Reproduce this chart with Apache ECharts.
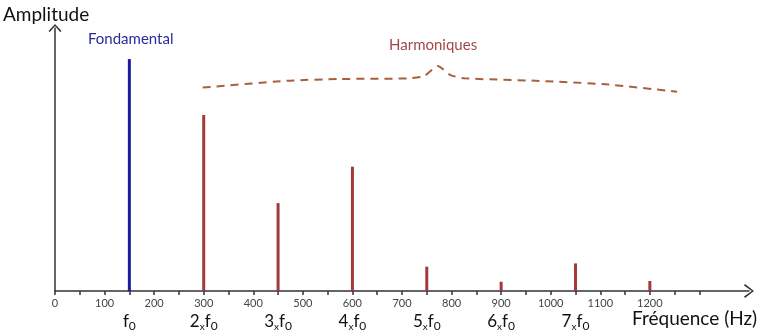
<!DOCTYPE html>
<html><head><meta charset="utf-8">
<script src="https://cdn.jsdelivr.net/npm/echarts@6/dist/echarts.min.js"></script>
<style>html,body{margin:0;padding:0;background:#fff}#c{width:768px;height:335px}</style>
</head><body><div id="c"></div>
<script>
// ---- data ----
var fundamentalFreq = [150];
var fundamentalAmp = [100];
var harmonicFreqs = [300, 450, 600, 750, 900, 1050, 1200];
var harmonicAmps = [75.9, 37.9, 53.6, 10.5, 4.0, 11.9, 4.3];
var tickLabels = [0, 100, 200, 300, 400, 500, 600, 700, 800, 900, 1000, 1100, 1200];
var tickMarks = [0,50,100,150,200,250,300,350,400,450,500,550,600,650,700,750,800,850,900,950,1000,1050,1100,1150,1200,1250,1300];
var multipleFreqs = [150, 300, 450, 600, 750, 900, 1050];
var multipleOrders = [1, 2, 3, 4, 5, 6, 7];
var braceFreqs = [298, 473, 574, 715, 745, 772, 798, 826, 977, 1112, 1255];
var braceAmps = [87.7, 90.7, 91.4, 91.7, 92.7, 97.0, 93.1, 91.7, 90.6, 89.1, 85.9];

var FONT = 'Lato';
var chart = echarts.init(document.getElementById('c'), null, {renderer: 'canvas'});

var fundData = fundamentalFreq.map(function (f, i) { return [f, fundamentalAmp[i]]; });
var harmData = harmonicFreqs.map(function (f, i) { return [f, harmonicAmps[i]]; });
var braceData = braceFreqs.map(function (f, i) { return [f, braceAmps[i]]; });

var arrowX = 'path://M7,0 L14,9 L12.6,10 L7,2.2 L1.4,10 L0,9 Z';
var arrowY = 'path://M6.5,0 L13,7 L11.7,8 L6.5,2 L1.3,8 L0,7 Z';

chart.setOption({
  animation: false,
  backgroundColor: '#fff',
  title: [
    {text: 'Amplitude', left: 3, top: 5, padding: 0, textStyle: {fontFamily: FONT, fontSize: 19, fontWeight: 'normal', color: '#111'}},
    {text: 'Fondamental', left: 88, top: 32, padding: 0, textStyle: {fontFamily: FONT, fontSize: 15, fontWeight: 'normal', color: '#2b2b9c'}},
    {text: 'Harmoniques', left: 389, top: 38, padding: 0, textStyle: {fontFamily: FONT, fontSize: 15, fontWeight: 'normal', color: '#a24848'}},
    {text: 'Fréquence (Hz)', left: 632, top: 309, padding: 0, textStyle: {fontFamily: FONT, fontSize: 19, fontWeight: 'normal', color: '#111'}}
  ],
  grid: {left: 55, right: 19, top: 28, bottom: 44, containLabel: false},
  xAxis: [{
    type: 'value', min: 0, max: 1400,
    axisLine: {show: true, symbol: ['none', arrowX], symbolSize: [14, 10], lineStyle: {color: '#333', width: 1.5}},
    axisTick: {show: true, customValues: tickMarks, length: 4, lineStyle: {color: '#333', width: 1.5}},
    axisLabel: {show: true, customValues: tickLabels, margin: 7, fontFamily: FONT, fontSize: 11, color: '#444',
      formatter: function (v) { return String(v); }},
    splitLine: {show: false}
  }, {
    type: 'value', min: 0, max: 1400, position: 'bottom', gridIndex: 0,
    axisLine: {show: false}, axisTick: {show: false}, splitLine: {show: false},
    axisLabel: {
      show: true, customValues: multipleFreqs, margin: 21,
      formatter: function (v) {
        var n = multipleOrders[multipleFreqs.indexOf(v)];
        return (n === 1 ? '' : '{n|' + n + '}{x|x}') + '{f|f}{s|0}';
      },
      rich: {
        n: {fontFamily: FONT, fontSize: 17, color: '#111', lineHeight: 20},
        f: {fontFamily: FONT, fontSize: 17, color: '#111', lineHeight: 20},
        x: {fontFamily: FONT, fontSize: 10, color: '#111', verticalAlign: 'bottom', lineHeight: 18},
        s: {fontFamily: FONT, fontSize: 12, color: '#111', verticalAlign: 'bottom', lineHeight: 14}
      }
    }
  }],
  yAxis: {
    type: 'value', min: 0, max: 113.4,
    axisLine: {show: true, symbol: ['none', arrowY], symbolSize: [13, 8], lineStyle: {color: '#333', width: 1.5}},
    axisTick: {show: false}, axisLabel: {show: false}, splitLine: {show: false}
  },
  series: [
    {type: 'bar', name: 'Fondamental', data: fundData, barWidth: 3, barGap: '-100%', itemStyle: {color: '#1b1b9e'}},
    {type: 'bar', name: 'Harmoniques', data: harmData, barWidth: 3, barGap: '-100%', itemStyle: {color: '#a3393b'}},
    {type: 'line', data: braceData, smooth: 0.2, symbol: 'none', lineStyle: {color: '#a8603c', width: 2, type: [8, 6]}}
  ]
});
</script></body></html>
